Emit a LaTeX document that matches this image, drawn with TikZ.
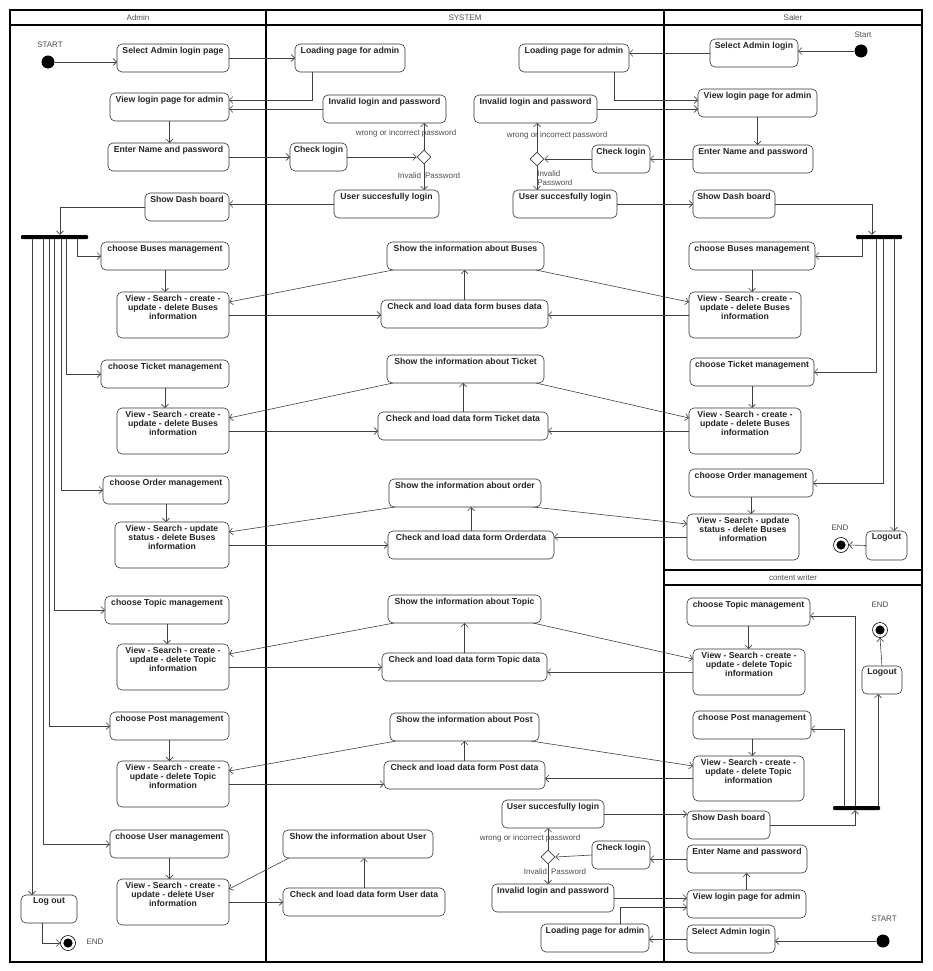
\documentclass[tikz,border=0pt]{standalone}
\usepackage{fontspec}
\setmainfont{Liberation Sans}
\usetikzlibrary{shapes.geometric,arrows.meta,calc}
\newcommand\actn[6]{%
\node[actbox, minimum width={(#4-#2)*1pt}, minimum height={(#5-#3)*1pt}] (#1) at ({(#2+#4)/2},{(#3+#5)/2}) {};
\node[acttxt] at (#1.north) {#6};}
\begin{document}
\begin{tikzpicture}[x=1pt,y=-1pt,
 actbox/.style={draw=black!80, rounded corners=5pt, fill=white, inner sep=0pt, outer sep=0pt, line width=0.6pt},
 acttxt/.style={anchor=north, align=center, inner sep=2.5pt, font=\fontsize{8.7}{9}\selectfont\bfseries, text=black!85},
 arr/.style={draw=black!75, line width=0.6pt, -{Straight Barb[length=3.5pt,width=7pt]}},
 lane/.style={draw=black, line width=1.6pt},
 hdr/.style={font=\fontsize{8}{8}\selectfont, text=black!70},
 note/.style={font=\fontsize{8}{8.5}\selectfont, text=black!70, inner sep=1pt},
 barn/.style={fill=black, minimum height=4pt, inner sep=0pt, rounded corners=1pt},
 startn/.style={circle, fill=black, minimum size=13pt, inner sep=0pt},
 endn/.style={circle, draw=black, fill=white, minimum size=15pt, inner sep=0pt, line width=0.6pt,
   path picture={\fill[black] (path picture bounding box.center) circle (4.6pt);}},
 decn/.style={diamond, draw=black!75, fill=white, minimum width=14pt, minimum height=14pt, inner sep=0pt, line width=0.6pt}]
\useasboundingbox (0,0) rectangle (932,971);
% lanes
\draw[line width=1.2pt] (10,10) rectangle (922,962);
\draw[line width=1.2pt] (10,25) -- (922,25);
\draw[lane] (266,10) -- (266,962);
\draw[lane] (664,10) -- (664,962);
\draw[line width=1.2pt] (664,570) -- (922,570);
\draw[line width=1.2pt] (664,585) -- (922,585);
\node[hdr] (hA) at (138,18) {Admin};
\node[hdr] (hS) at (465,18) {SYSTEM};
\node[hdr] (hR) at (793,18) {Saler};
\node[hdr] (hW) at (793,578) {content writer};
% ---- Admin
\node[startn] (startA) at (48,62) {};
\node[note] (lstA) at (50,45) {START};
\actn{selA}{117}{44}{229}{72}{Select Admin login page}
\actn{viewA}{110}{93}{229}{121}{View login page for admin}
\actn{enterA}{108}{143}{229}{171}{Enter Name and password}
\actn{dashA}{145}{193}{229}{221}{Show Dash board}
\node[barn, minimum width=67pt] (barA) at (54.5,237) {};
\actn{busChA}{101}{242}{229}{270}{choose Buses management}
\actn{busVA}{117}{292}{229}{338}{View - Search - create -\\update - delete Buses\\information}
\actn{tickChA}{101}{360}{229}{388}{choose Ticket management}
\actn{tickVA}{117}{408}{229}{454}{View - Search - create -\\update - delete Buses\\information}
\actn{ordChA}{103}{476}{229}{504}{choose Order management}
\actn{ordVA}{115}{522}{229}{568}{View - Search - update\\status - delete Buses\\information}
\actn{topChA}{105}{596}{229}{624}{choose Topic management}
\actn{topVA}{117}{644}{229}{690}{View - Search - create -\\update - delete Topic\\information}
\actn{postChA}{110}{712}{229}{740}{choose Post management}
\actn{postVA}{117}{761}{229}{807}{View - Search - create -\\update - delete Topic\\information}
\actn{userChA}{110}{830}{229}{858}{choose User management}
\actn{userVA}{117}{879}{229}{925}{View - Search - create -\\update - delete User\\information}
\actn{logoutA}{21}{895}{77}{923}{Log out}
\node[endn] (endA) at (68,943) {};
\node[note] (lendA) at (95,942) {END};
% ---- System (admin side)
\actn{loadA}{295}{44}{405}{72}{Loading page for admin}
\actn{invA}{323}{95}{446}{123}{Invalid login and password}
\actn{checkA}{290}{143}{347}{171}{Check login}
\node[decn] (decA) at (424,157) {};
\actn{succA}{334}{190}{439}{218}{User succesfully login}
\actn{showBus}{387}{242}{544}{270}{Show the information about Buses}
\actn{checkBus}{381}{300}{548}{328}{Check and load data form buses data}
\actn{showTick}{387}{355}{544}{383}{Show the information about Ticket}
\actn{checkTick}{378}{412}{548}{440}{Check and load data form Ticket data}
\actn{showOrd}{389}{479}{541}{507}{Show the information about order}
\actn{checkOrd}{388}{531}{554}{559}{Check and load data form Orderdata}
\actn{showTop}{388}{595}{541}{623}{Show the information about Topic}
\actn{checkTop}{382}{653}{547}{681}{Check and load data form Topic data}
\actn{showPost}{390}{713}{539}{741}{Show the information about Post}
\actn{checkPost}{384}{761}{545}{789}{Check and load data form Post data}
\actn{showUser}{283}{830}{433}{858}{Show the information about User}
\actn{checkUser}{283}{888}{445}{916}{Check and load data form User data}
% ---- System (saler side)
\actn{loadS}{519}{44}{629}{72}{Loading page for admin}
\actn{invS}{474}{95}{597}{123}{Invalid login and password}
\actn{checkS}{592}{145}{650}{173}{Check login}
\node[decn] (decS) at (537,159) {};
\actn{succS}{513}{190}{617}{218}{User succesfully login}
% ---- System (writer side)
\actn{succW}{502}{800}{604}{828}{User succesfully login}
\actn{checkW}{592}{841}{650}{869}{Check login}
\node[decn] (decW) at (548,857) {};
\actn{invW}{492}{884}{614}{912}{Invalid login and password}
\actn{loadW}{541}{924}{649}{952}{Loading page for admin}
% ---- Saler
\node[startn] (startS) at (861,51) {};
\node[note] (lstS) at (863,35) {Start};
\actn{selS}{710}{39}{798}{67}{Select Admin login}
\actn{viewS}{698}{89}{817}{117}{View login page for admin}
\actn{enterS}{693}{145}{813}{173}{Enter Name and password}
\actn{dashS}{693}{190}{775}{218}{Show Dash board}
\node[barn, minimum width=46pt] (barS) at (879,237) {};
\actn{busChS}{689}{242}{815}{270}{choose Buses management}
\actn{busVS}{689}{292}{801}{338}{View - Search - create -\\update - delete Buses\\information}
\actn{tickChS}{690}{358}{814}{386}{choose Ticket management}
\actn{tickVS}{689}{408}{801}{454}{View - Search - create -\\update - delete Buses\\information}
\actn{ordChS}{689}{469}{813}{497}{choose Order management}
\actn{ordVS}{687}{514}{799}{560}{View - Search - update\\status - delete Buses\\information}
\actn{logoutS}{866}{531}{907}{560}{Logout}
\node[endn] (endS) at (841,545) {};
\node[note] (lendS) at (840,528) {END};
% ---- Content writer
\actn{topChW}{687}{598}{810}{626}{choose Topic management}
\actn{topVW}{693}{649}{805}{695}{View - Search - create -\\update - delete Topic\\information}
\actn{postChW}{693}{711}{811}{739}{choose Post management}
\actn{postVW}{693}{756}{804}{801}{View - Search - create -\\update - delete Topic\\information}
\node[barn, minimum width=47pt] (barW) at (856.5,808) {};
\actn{logoutW}{862}{666}{902}{694}{Logout}
\node[endn] (endW) at (880,630) {};
\node[note] (lendW) at (880,605) {END};
\actn{dashW}{687}{811}{770}{839}{Show Dash board}
\actn{enterW}{687}{845}{807}{873}{Enter Name and password}
\actn{viewW}{687}{890}{806}{918}{View login page for admin}
\actn{selW}{687}{925}{775}{953}{Select Admin login}
\node[startn] (startW) at (883,941) {};
\node[note] (lstW) at (884,919) {START};
% ================= connectors: Admin login
\draw[arr] (startA) -- (startA -| selA.west);
\draw[arr] (selA.east) -- (selA.east -| loadA.west);
\draw[arr] ([xshift=-38pt]loadA.south) |- ([yshift=7pt]viewA.east);
\draw[arr] (invA.west) -- (invA.west -| viewA.east);
\draw[arr] (viewA.south) -- (viewA.south |- enterA.north);
\draw[arr] (enterA.east) -- (enterA.east -| checkA.west);
\draw[arr] (checkA.east) -- (decA.west);
\draw[arr] (decA.north) -- node[note, pos=0.6, xshift=-18pt] {wrong or incorrect password} (decA.north |- invA.south);
\draw[arr] (decA.south) -- node[note, pos=0.45, xshift=5pt] {Invalid\hspace{4pt}Password} (decA.south |- succA.north);
\draw[arr] (succA.west) -- (succA.west -| dashA.east);
\draw[arr] (dashA.west) -| ([xshift=5.5pt]barA.north);
\draw[arr] ([xshift=22.5pt]barA.south) |- (busChA.west);
\draw[arr] ([xshift=11.5pt]barA.south) |- (tickChA.west);
\draw[arr] ([xshift=6.5pt]barA.south) |- (ordChA.west);
\draw[arr] ([xshift=-0.5pt]barA.south) |- (topChA.west);
\draw[arr] ([xshift=-5.5pt]barA.south) |- (postChA.west);
\draw[arr] ([xshift=-11.5pt]barA.south) |- (userChA.west);
\draw[arr] ([xshift=-22.5pt]barA.south) -- ([xshift=-22.5pt]barA.south |- logoutA.north);
\draw[arr] ([xshift=-7pt]logoutA.south) |- (endA.west);
% choose -> view
\foreach \c/\v in {busChA/busVA,tickChA/tickVA,ordChA/ordVA,topChA/topVA,postChA/postVA,userChA/userVA,busChS/busVS,tickChS/tickVS,ordChS/ordVS,topChW/topVW,postChW/postVW}
  \draw[arr] (\c.south) -- (\c.south |- \v.north);
% view <-> check <-> show (admin)
\foreach \v/\k/\s in {busVA/checkBus/showBus,tickVA/checkTick/showTick,ordVA/checkOrd/showOrd,topVA/checkTop/showTop,postVA/checkPost/showPost,userVA/checkUser/showUser}{
  \draw[arr] (\v.east) -- (\v.east -| \k.west);
  \draw[arr] (\k.north) -- (\k.north |- \s.south);
  \draw[arr] ([xshift=6pt]\s.south west) -- ([yshift=-10pt]\v.north east);
}
% right side views
\foreach \v/\k/\s in {busVS/checkBus/showBus,tickVS/checkTick/showTick,ordVS/checkOrd/showOrd,topVW/checkTop/showTop,postVW/checkPost/showPost}{
  \draw[arr] (\v.west) -- (\v.west -| \k.east);
  \draw[arr] ([xshift=-8pt]\s.south east) -- ([yshift=-10pt]\v.north west);
}
% ================= Saler login
\draw[arr] (startS) -- (startS -| selS.east);
\draw[arr] (selS.west) -- (selS.west -| loadS.east);
\draw[arr] ([xshift=40pt]loadS.south) |- ([yshift=3pt]viewS.west);
\draw[arr] (invS.east) -- (invS.east -| viewS.west);
\draw[arr] (viewS.south) -- (viewS.south |- enterS.north);
\draw[arr] (enterS.west) -- (enterS.west -| checkS.east);
\draw[arr] (checkS.west) -- (decS.east);
\draw[arr] (decS.north) -- node[note, pos=0.55, xshift=20pt] {wrong or incorrect password} (decS.north |- invS.south);
\draw[arr] (decS.south) -- node[note, pos=0.5, right, align=left, xshift=-1pt] {Invalid\\Password} (decS.south |- succS.north);
\draw[arr] (succS.east) -- (succS.east -| dashS.west);
\draw[arr] (dashS.east) -| ([xshift=-7pt]barS.north);
\draw[arr] ([xshift=-17pt]barS.south) |- (busChS.east);
\draw[arr] ([xshift=-3pt]barS.south) |- (tickChS.east);
\draw[arr] ([xshift=4pt]barS.south) |- (ordChS.east);
\draw[arr] ([xshift=15pt]barS.south) -- ([xshift=15pt]barS.south |- logoutS.north);
\draw[arr] (logoutS.west) -- (endS.east);
% ================= Writer login
\draw[arr] (startW) -- (startW -| selW.east);
\draw[arr] (selW.west) -- (selW.west -| loadW.east);
\draw[arr] ([xshift=25pt]loadW.north) |- ([yshift=-3pt]viewW.west);
\draw[arr] (invW.east) -- (invW.east -| viewW.west);
\draw[arr] (viewW.north) -- (viewW.north |- enterW.south);
\draw[arr] (enterW.west) -- (enterW.west -| checkW.east);
\draw[arr] (checkW.west) -- (decW.east);
\draw[arr] (decW.north) -- node[note, pos=0.5, xshift=-18pt] {wrong or incorrect password} (decW.north |- succW.south);
\draw[arr] (decW.south) -- node[note, pos=0.35, xshift=7pt] {Invalid\hspace{4pt}Password} (decW.south |- invW.north);
\draw[arr] (succW.east) -- (succW.east -| dashW.west);
\draw[arr] (dashW.east) -| ([xshift=-1.5pt]barW.south);
\draw[arr] ([xshift=-1.5pt]barW.north) |- ([yshift=-4pt]topChW.east);
\draw[arr] ([xshift=-12.5pt]barW.north) |- ([yshift=-4pt]postChW.east);
\draw[arr] ([xshift=21.5pt]barW.north) -- ([xshift=21.5pt]barW.north |- logoutW.south);
\draw[arr] (logoutW.north) -- (endW.south);
\end{tikzpicture}
\end{document}
